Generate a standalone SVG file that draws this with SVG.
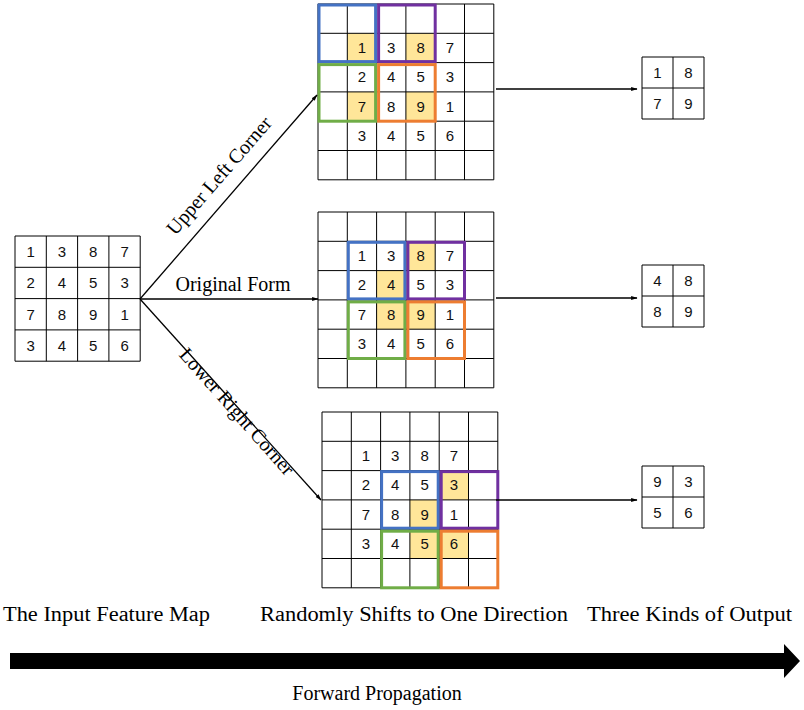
<svg xmlns="http://www.w3.org/2000/svg" width="804" height="710" viewBox="0 0 804 710">
<style>
.g{fill:none;stroke:#000;stroke-width:1}
.n{font-family:"Liberation Sans",Arial,sans-serif;font-size:15px;text-anchor:middle;fill:#111}
.t{font-family:"Liberation Serif","Times New Roman",serif;font-size:20px;fill:#000}
.hl{fill:#FFE699}
.b{fill:none;stroke:#4472C4;stroke-width:3}
.p{fill:none;stroke:#7030A0;stroke-width:3}
.gr{fill:none;stroke:#70AD47;stroke-width:3}
.o{fill:none;stroke:#ED7D31;stroke-width:3}
.c{stroke:#000;stroke-width:1.3;fill:none;marker-end:url(#a)}
</style>
<defs>
<marker id="a" viewBox="0 0 10 10" refX="9" refY="5" markerWidth="5" markerHeight="5" orient="auto"><path d="M0,2 L10,5 L0,8 z" fill="#000"/></marker>
<path id="g6" d="M0,0V175.8M29.3,0V175.8M58.6,0V175.8M87.9,0V175.8M117.2,0V175.8M146.5,0V175.8M175.8,0V175.8M0,0H175.8M0,29.3H175.8M0,58.6H175.8M0,87.9H175.8M0,117.2H175.8M0,146.5H175.8M0,175.8H175.8"/>
</defs>

<g id="input" transform="translate(15,236)">
<path class="g" d="M0,0V125.2M31.3,0V125.2M62.6,0V125.2M93.9,0V125.2M125.2,0V125.2M0,0H125.2M0,31.3H125.2M0,62.6H125.2M0,93.9H125.2M0,125.2H125.2"/>
<g class="n">
<text x="15.65" y="21">1</text><text x="46.95" y="21">3</text><text x="78.25" y="21">8</text><text x="109.55" y="21">7</text>
<text x="15.65" y="52.3">2</text><text x="46.95" y="52.3">4</text><text x="78.25" y="52.3">5</text><text x="109.55" y="52.3">3</text>
<text x="15.65" y="83.6">7</text><text x="46.95" y="83.6">8</text><text x="78.25" y="83.6">9</text><text x="109.55" y="83.6">1</text>
<text x="15.65" y="114.9">3</text><text x="46.95" y="114.9">4</text><text x="78.25" y="114.9">5</text><text x="109.55" y="114.9">6</text>
</g>
</g>

<g id="shift-top" transform="translate(318,4)">
<rect class="hl" x="29.3" y="29.3" width="29.3" height="29.3"/><rect class="hl" x="87.9" y="29.3" width="29.3" height="29.3"/>
<rect class="hl" x="29.3" y="87.9" width="29.3" height="29.3"/><rect class="hl" x="87.9" y="87.9" width="29.3" height="29.3"/>
<use href="#g6" class="g"/>
<g class="n">
<text x="43.95" y="49">1</text><text x="73.25" y="49">3</text><text x="102.55" y="49">8</text><text x="131.85" y="49">7</text>
<text x="43.95" y="78.3">2</text><text x="73.25" y="78.3">4</text><text x="102.55" y="78.3">5</text><text x="131.85" y="78.3">3</text>
<text x="43.95" y="107.6">7</text><text x="73.25" y="107.6">8</text><text x="102.55" y="107.6">9</text><text x="131.85" y="107.6">1</text>
<text x="43.95" y="136.9">3</text><text x="73.25" y="136.9">4</text><text x="102.55" y="136.9">5</text><text x="131.85" y="136.9">6</text>
</g>
<rect class="b" x="1" y="1" width="56.6" height="56.6"/><rect class="p" x="60.6" y="1" width="56.6" height="56.6"/>
<rect class="gr" x="1" y="60.6" width="56.6" height="56.6"/><rect class="o" x="60.6" y="60.6" width="56.6" height="56.6"/>
</g>

<g id="shift-mid" transform="translate(318,212)">
<rect class="hl" x="87.9" y="29.3" width="29.3" height="29.3"/><rect class="hl" x="58.6" y="58.6" width="29.3" height="29.3"/>
<rect class="hl" x="58.6" y="87.9" width="29.3" height="29.3"/><rect class="hl" x="87.9" y="87.9" width="29.3" height="29.3"/>
<use href="#g6" class="g"/>
<g class="n">
<text x="43.95" y="49">1</text><text x="73.25" y="49">3</text><text x="102.55" y="49">8</text><text x="131.85" y="49">7</text>
<text x="43.95" y="78.3">2</text><text x="73.25" y="78.3">4</text><text x="102.55" y="78.3">5</text><text x="131.85" y="78.3">3</text>
<text x="43.95" y="107.6">7</text><text x="73.25" y="107.6">8</text><text x="102.55" y="107.6">9</text><text x="131.85" y="107.6">1</text>
<text x="43.95" y="136.9">3</text><text x="73.25" y="136.9">4</text><text x="102.55" y="136.9">5</text><text x="131.85" y="136.9">6</text>
</g>
<rect class="b" x="30.3" y="30.3" width="56.6" height="56.6"/><rect class="p" x="89.9" y="30.3" width="56.6" height="56.6"/>
<rect class="gr" x="30.3" y="89.9" width="56.6" height="56.6"/><rect class="o" x="89.9" y="89.9" width="56.6" height="56.6"/>
</g>

<g id="shift-bottom" transform="translate(322,412)">
<rect class="hl" x="117.2" y="58.6" width="29.3" height="29.3"/><rect class="hl" x="87.9" y="87.9" width="29.3" height="29.3"/>
<rect class="hl" x="87.9" y="117.2" width="29.3" height="29.3"/><rect class="hl" x="117.2" y="117.2" width="29.3" height="29.3"/>
<use href="#g6" class="g"/>
<g class="n">
<text x="43.95" y="49">1</text><text x="73.25" y="49">3</text><text x="102.55" y="49">8</text><text x="131.85" y="49">7</text>
<text x="43.95" y="78.3">2</text><text x="73.25" y="78.3">4</text><text x="102.55" y="78.3">5</text><text x="131.85" y="78.3">3</text>
<text x="43.95" y="107.6">7</text><text x="73.25" y="107.6">8</text><text x="102.55" y="107.6">9</text><text x="131.85" y="107.6">1</text>
<text x="43.95" y="136.9">3</text><text x="73.25" y="136.9">4</text><text x="102.55" y="136.9">5</text><text x="131.85" y="136.9">6</text>
</g>
<rect class="b" x="59.6" y="59.6" width="56.6" height="56.6"/><rect class="p" x="119.2" y="59.6" width="56.6" height="56.6"/>
<rect class="gr" x="59.6" y="119.2" width="56.6" height="56.6"/><rect class="o" x="119.2" y="119.2" width="56.6" height="56.6"/>
</g>

<g id="out-top" transform="translate(642,57)">
<path class="g" d="M0,0V62M31,0V62M62,0V62M0,0H62M0,31H62M0,62H62"/>
<g class="n"><text x="15.5" y="21">1</text><text x="46.5" y="21">8</text><text x="15.5" y="52">7</text><text x="46.5" y="52">9</text></g>
</g>
<g id="out-mid" transform="translate(642,265)">
<path class="g" d="M0,0V62M31,0V62M62,0V62M0,0H62M0,31H62M0,62H62"/>
<g class="n"><text x="15.5" y="21">4</text><text x="46.5" y="21">8</text><text x="15.5" y="52">8</text><text x="46.5" y="52">9</text></g>
</g>
<g id="out-bottom" transform="translate(642,466)">
<path class="g" d="M0,0V62M31,0V62M62,0V62M0,0H62M0,31H62M0,62H62"/>
<g class="n"><text x="15.5" y="21">9</text><text x="46.5" y="21">3</text><text x="15.5" y="52">5</text><text x="46.5" y="52">6</text></g>
</g>

<g id="connectors">
<line class="c" x1="140" y1="299" x2="317" y2="95"/>
<line class="c" x1="140" y1="299" x2="318" y2="299"/>
<line class="c" x1="140" y1="299" x2="321" y2="500"/>
<line class="c" x1="496" y1="89" x2="637" y2="89"/>
<line class="c" x1="496" y1="298" x2="637" y2="298"/>
<line class="c" x1="496" y1="500" x2="637" y2="500"/>
<path d="M10,653H784V644L800,661L784,678V669H10Z" fill="#000"/>
</g>

<g id="labels" class="t">
<text transform="translate(224,180) rotate(-49)" text-anchor="middle">Upper Left Corner</text>
<text x="233" y="291" text-anchor="middle">Original Form</text>
<text transform="translate(232,416) rotate(48.5)" text-anchor="middle">Lower Right Corner</text>
<text x="3" y="621" textLength="207" lengthAdjust="spacingAndGlyphs">The Input Feature Map</text>
<text x="260" y="621" textLength="308" lengthAdjust="spacingAndGlyphs">Randomly Shifts to One Direction</text>
<text x="587" y="621" textLength="205" lengthAdjust="spacingAndGlyphs">Three Kinds of Output</text>
<text x="377" y="700" text-anchor="middle">Forward Propagation</text>
</g>
</svg>
